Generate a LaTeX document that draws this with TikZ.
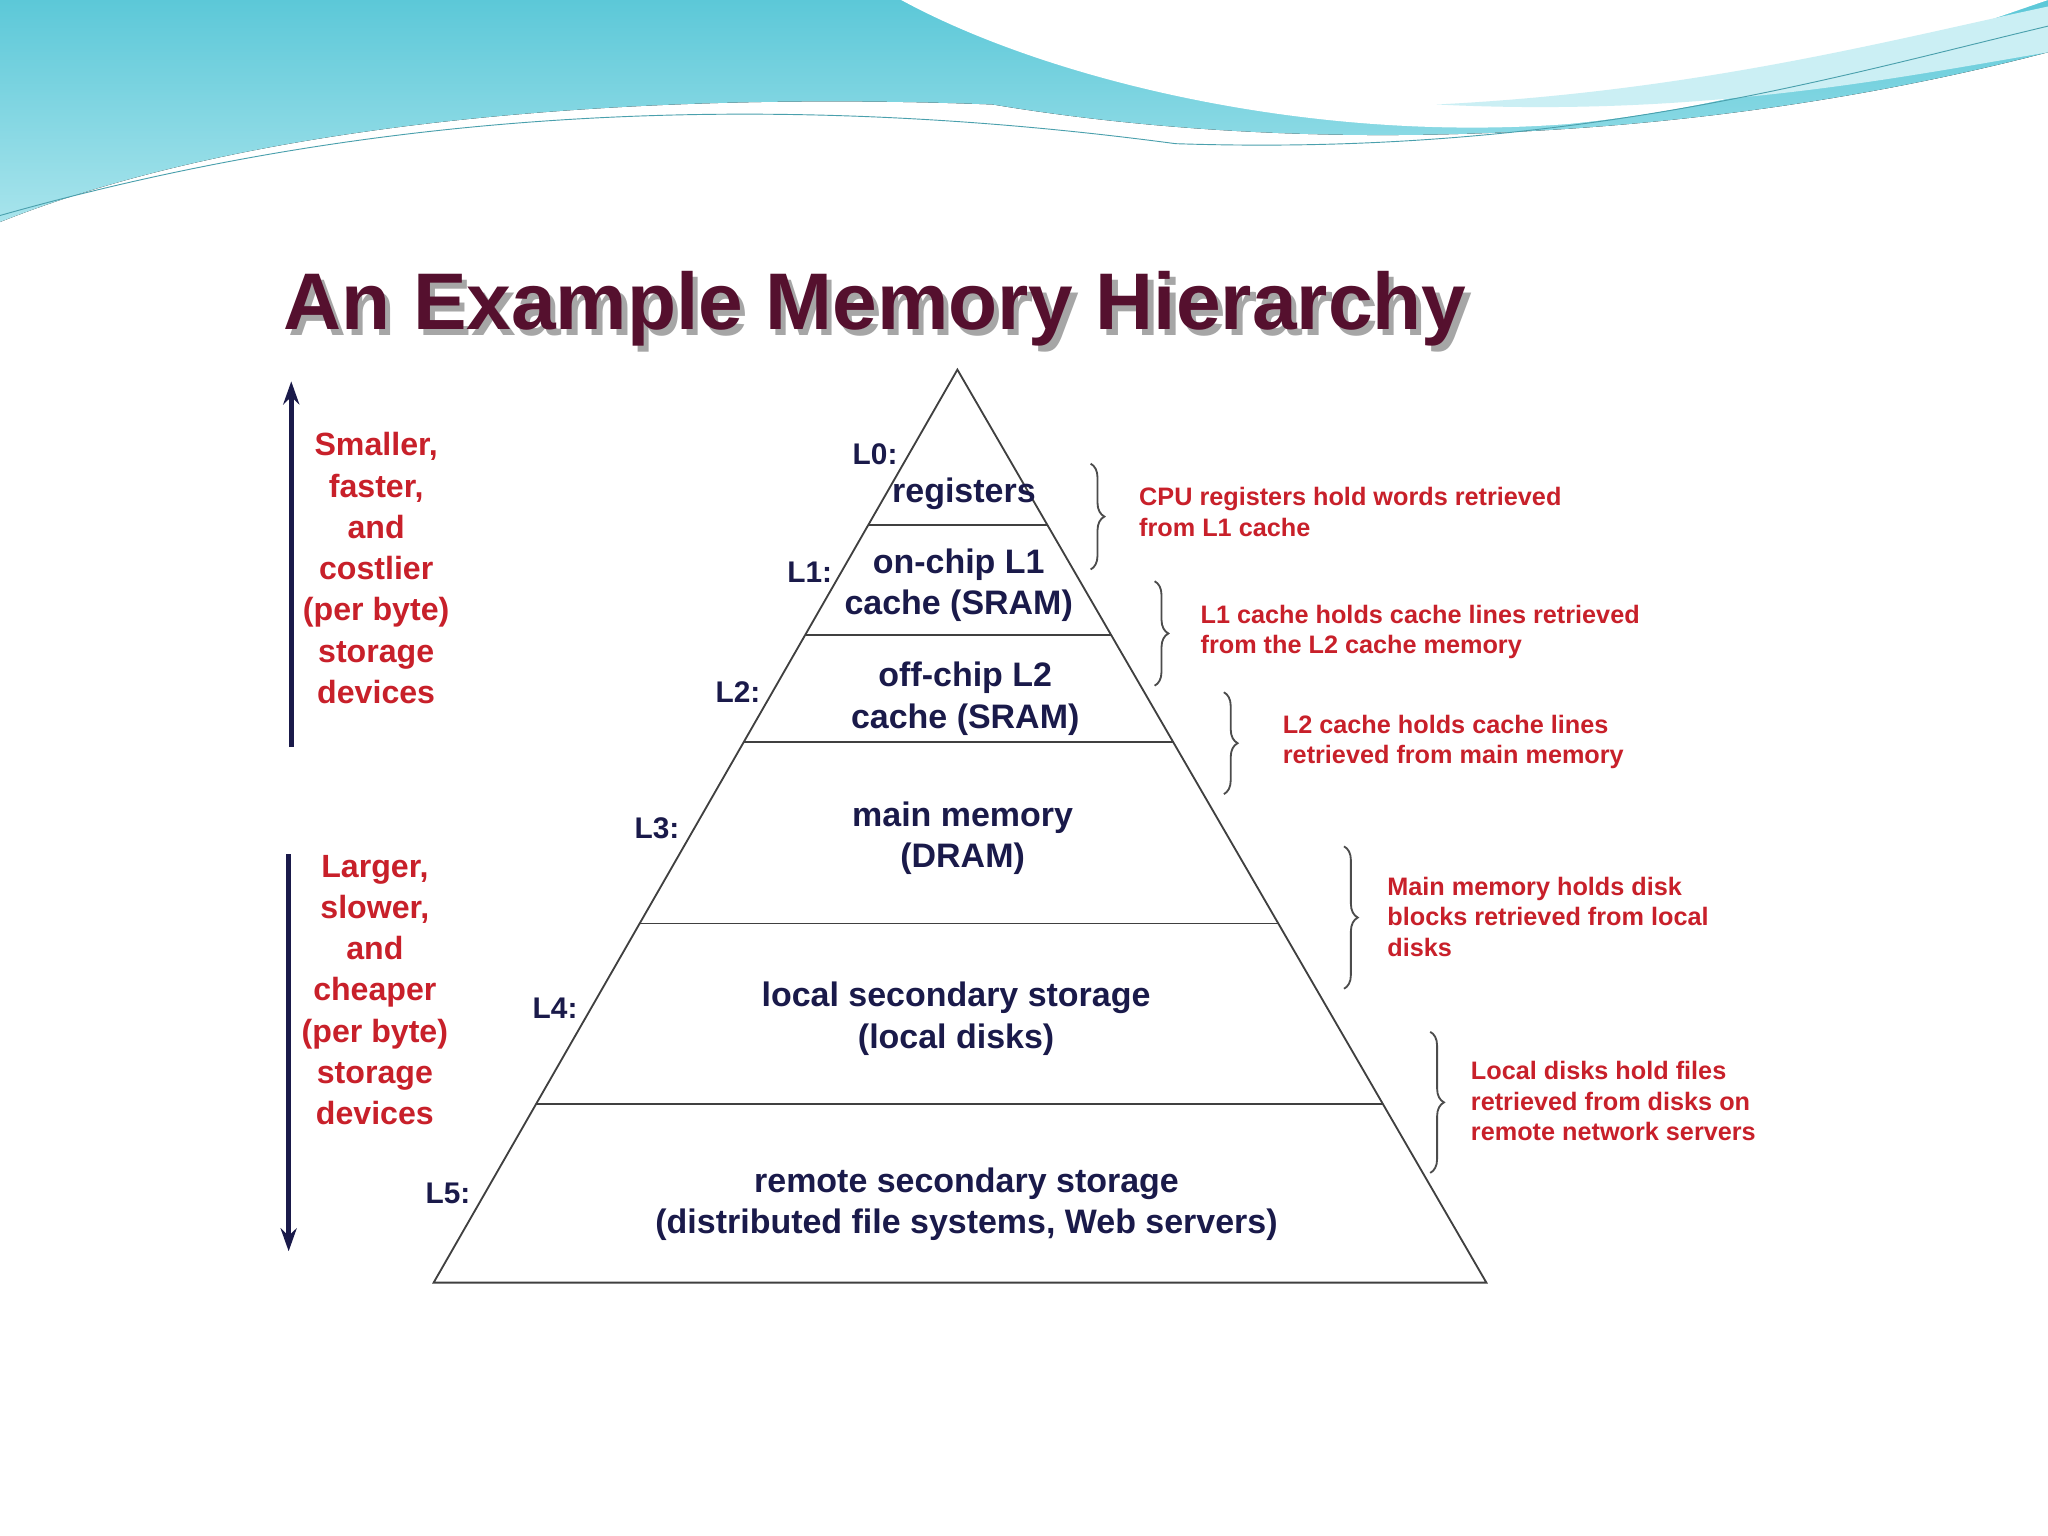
\documentclass[tikz,border=0pt]{standalone}
\usepackage{fontspec}
\setmainfont{Liberation Sans}
\usetikzlibrary{decorations.pathreplacing,arrows.meta}
\definecolor{navy}{HTML}{1A1A4A}
\definecolor{redt}{HTML}{C8202A}
\definecolor{maroon}{HTML}{55102E}
\definecolor{teal1}{HTML}{5CC8D8}
\definecolor{teal2}{HTML}{A8E4EC}
\tikzset{
  lvl/.style={font=\fontsize{13}{15}\selectfont\bfseries, text=navy},
  ptxt/.style={font=\fontsize{14.8}{18}\selectfont\bfseries, text=navy, align=center},
  note/.style={font=\fontsize{11}{13.2}\selectfont\bfseries, text=redt, align=left, anchor=west},
  side/.style={font=\fontsize{14}{18}\selectfont\bfseries, text=redt, align=center},
  br/.style={decorate, decoration={brace, amplitude=6pt}, thick, black!70},
}
\begin{document}
\begin{tikzpicture}[x=0.02cm,y=-0.02cm]
\useasboundingbox (0,0) rectangle (1568,1176);
\fill[white] (0,0) rectangle (1568,1176);
% header band
\fill[top color=teal1, bottom color=teal2] (0,0) -- (1568,0) -- (1568,40) .. controls (1300,110) and (1000,120) .. (760,80) .. controls (500,70) and (200,90) .. (0,170) -- cycle;
\fill[white] (690,0) .. controls (800,60) and (1000,110) .. (1200,95) .. controls (1350,80) and (1450,40) .. (1568,0) -- cycle;
\fill[teal2!60] (1100,80) .. controls (1300,70) and (1450,30) .. (1568,5) -- (1568,40) .. controls (1450,60) and (1300,90) .. cycle;
\draw[teal1!80!black, thin] (0,165) .. controls (300,80) and (600,70) .. (900,110) .. controls (1200,120) and (1400,60) .. (1568,20);
% title
\node[anchor=west, text=black!35, font=\fontsize{35}{40}\selectfont\bfseries] (tsh) at (215,241) {An Example Memory Hierarchy};
\node[anchor=west, text=maroon, font=\fontsize{35}{40}\selectfont\bfseries] (title) at (211,236) {An Example Memory Hierarchy};
% pyramid
\coordinate (apex) at (733,283);
\coordinate (bl) at (332,982);
\coordinate (brr) at (1138,982);
\draw[thick, black!75] (apex) -- (bl) -- (brr) -- cycle;
\draw[thick, black!75] (664.7,402) -- (802,402);
\draw[thick, black!75] (616.5,486) -- (850.6,486);
\draw[thick, black!75] (569.5,568) -- (898.1,568);
\draw[thick, black!75] (489.8,707) -- (978.7,707);
\draw[thick, black!75] (410.6,845) -- (1058.6,845);
% level labels
\node[lvl] (l0) at (670,348) {L0:};
\node[lvl] (l1) at (620,438) {L1:};
\node[lvl] (l2) at (565,530) {L2:};
\node[lvl] (l3) at (503,634) {L3:};
\node[lvl] (l4) at (425,772) {L4:};
\node[lvl] (l5) at (343,914) {L5:};
% texts
\node[ptxt] (t0) at (738,378) {registers};
\node[ptxt] (t1) at (734,448) {on-chip L1\\cache (SRAM)};
\node[ptxt] (t2) at (739,535) {off-chip L2\\cache (SRAM)};
\node[ptxt] (t3) at (737,642) {main memory\\(DRAM)};
\node[ptxt] (t4) at (732,780) {local secondary storage\\(local disks)};
\node[ptxt] (t5) at (740,922) {remote secondary storage\\(distributed file systems, Web servers)};
% braces
\draw[br] (835,355) -- (835,436);
\draw[br] (884,445) -- (884,525);
\draw[br] (937,530) -- (937,608);
\draw[br] (1029,648) -- (1029,757);
\draw[br] (1095,790) -- (1095,898);
\node[note] (n0) at (866,392) {CPU registers hold words retrieved\\from L1 cache};
\node[note] (n1) at (913,484) {L1 cache holds cache lines retrieved\\from the L2 cache memory};
\node[note] (n2) at (976,568) {L2 cache holds cache lines\\retrieved from main memory};
\node[note] (n3) at (1056,702) {Main memory holds disk\\blocks retrieved from local\\disks};
\node[note] (n4) at (1120,843) {Local disks hold files\\retrieved from disks on\\remote network servers};
% side arrows
\coordinate (a1t) at (223,292);
\coordinate (a1b) at (223,572);
\coordinate (a2t) at (221,654);
\coordinate (a2b) at (221,958);
\draw[line width=2pt, navy, -{Stealth[length=10pt,width=7pt]}] (a1b) -- (a1t);
\draw[line width=2pt, navy, -{Stealth[length=10pt,width=7pt]}] (a2t) -- (a2b);
\node[side] (s1) at (288,435) {Smaller,\\faster,\\and\\costlier\\(per byte)\\storage\\devices};
\node[side] (s2) at (287,758) {Larger,\\slower,\\and\\cheaper\\(per byte)\\storage\\devices};
\end{tikzpicture}
\end{document}
